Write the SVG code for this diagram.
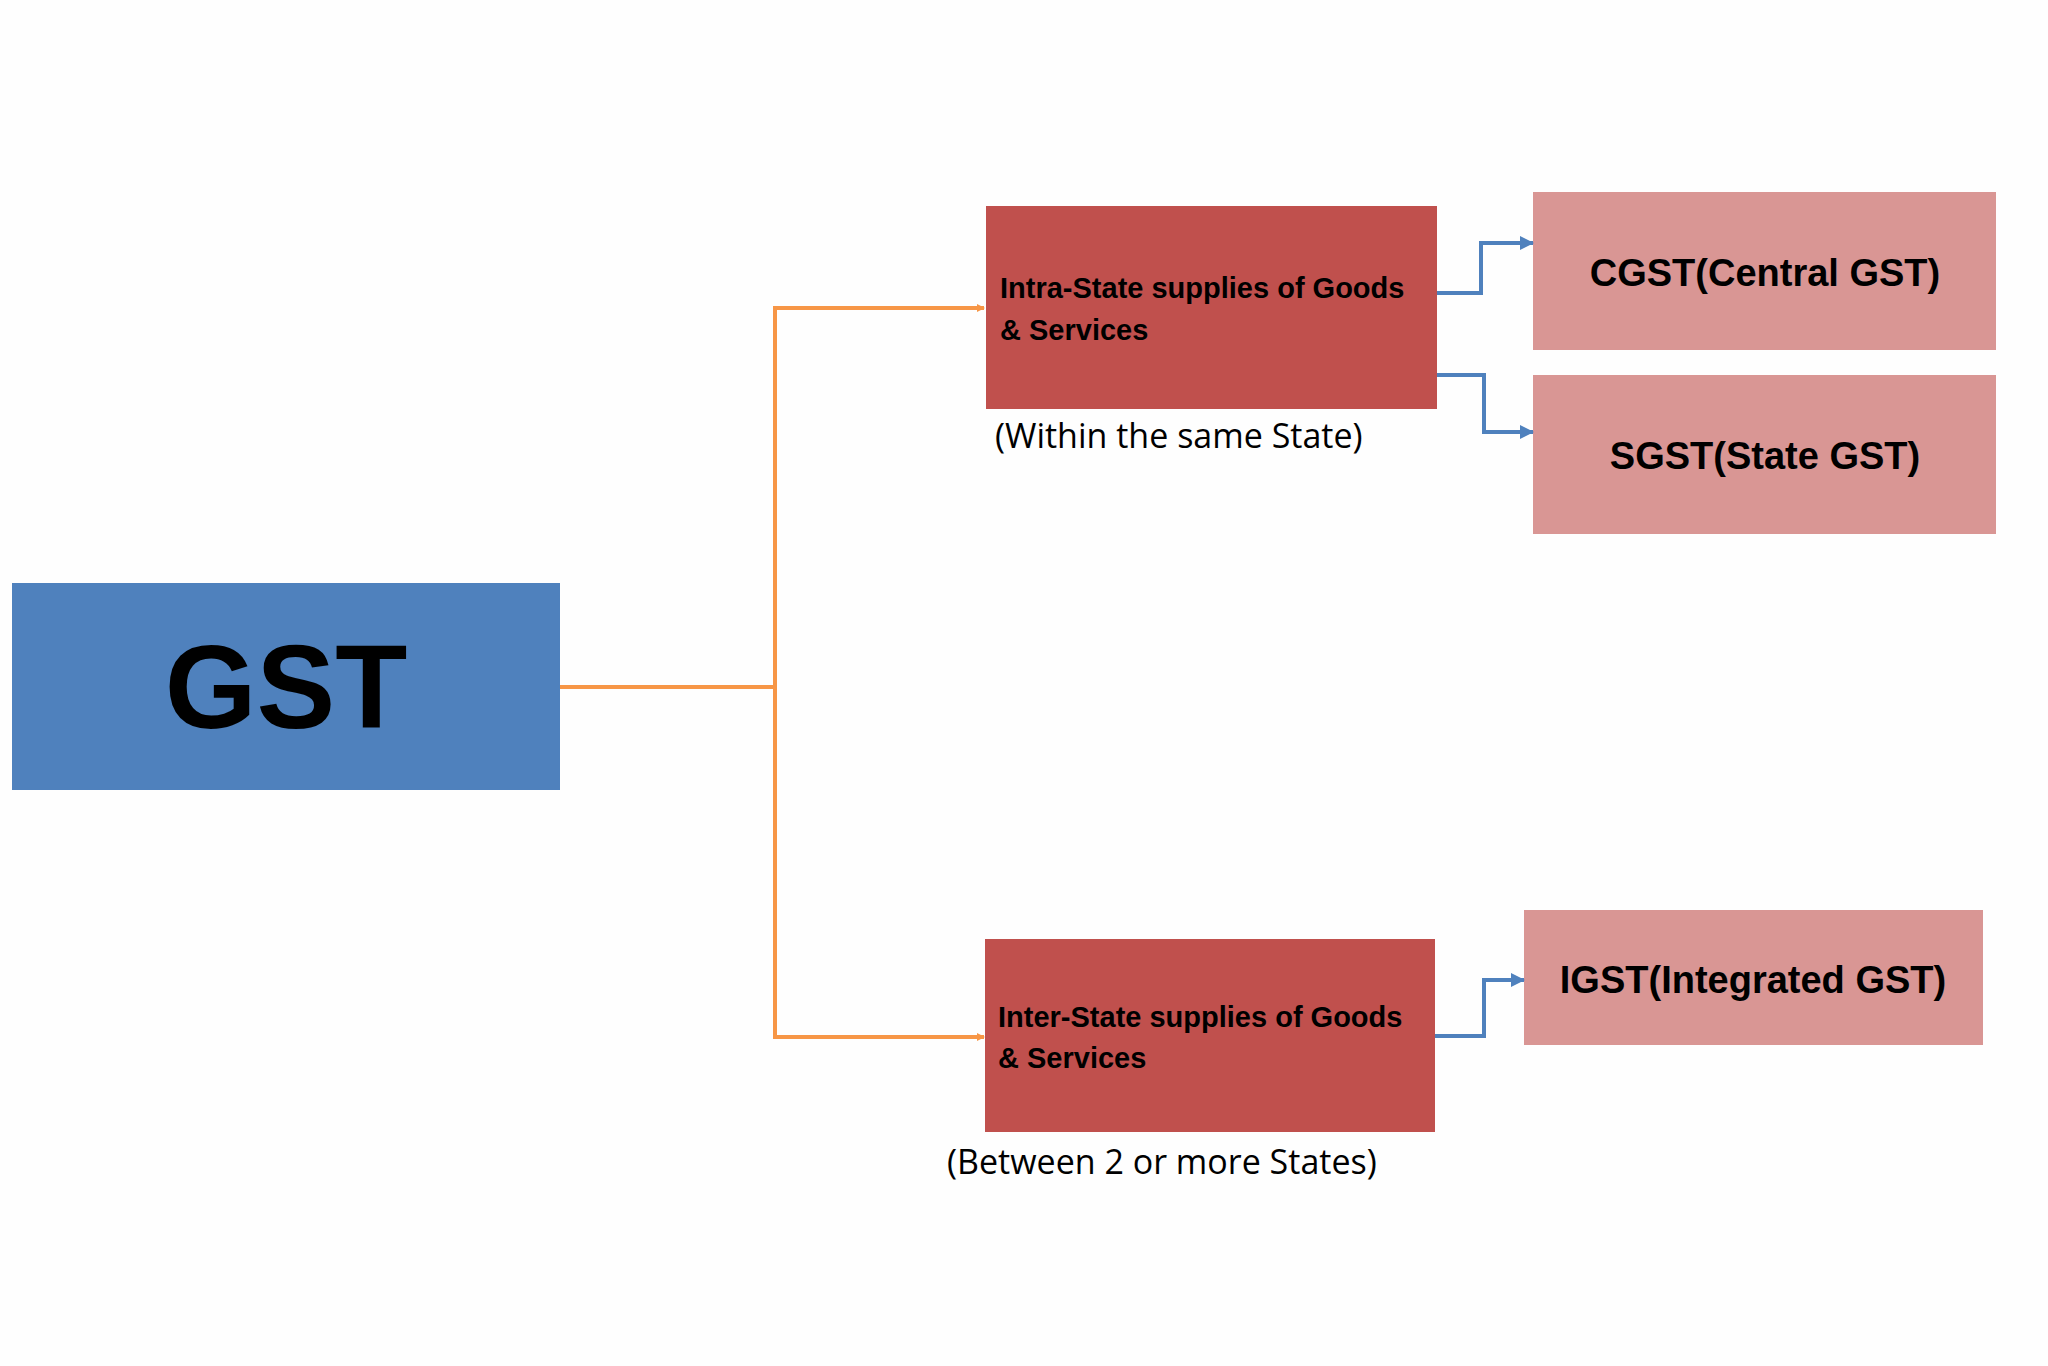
<svg xmlns="http://www.w3.org/2000/svg" width="2048" height="1366" viewBox="0 0 2048 1366">
<defs>
<style>
.b{font-family:"Liberation Sans",Arial,sans-serif;font-weight:bold;fill:#000}
.r{font-family:"Open Sans","Liberation Sans",sans-serif;fill:#000}
.o{fill:none;stroke:#F79646;stroke-width:4}
.bl{fill:none;stroke:#4F81BD;stroke-width:4}
</style>
<marker id="ao" markerWidth="8" markerHeight="8" refX="7" refY="4" orient="auto" markerUnits="userSpaceOnUse" viewBox="0 0 8 8"><path d="M0,0L8,4L0,8z" fill="#F79646"/></marker>
<marker id="ab" markerWidth="14" markerHeight="14" refX="13" refY="7" orient="auto" markerUnits="userSpaceOnUse" viewBox="0 0 14 14"><path d="M0,0L14,7L0,14z" fill="#4F81BD"/></marker>
</defs>
<rect width="2048" height="1366" fill="#fefefe"/>
<g id="gst"><rect x="12" y="583" width="548" height="207" fill="#4F81BD"/><text class="b" x="286" y="728" font-size="118" text-anchor="middle">GST</text></g>
<g id="intra"><rect x="986" y="206" width="451" height="203" fill="#C0504D"/><text class="b" x="1000" y="298" font-size="29">Intra-State supplies of Goods</text><text class="b" x="1000" y="340" font-size="29">&amp; Services</text><text class="r" x="995" y="448" font-size="34">(Within the same State)</text></g>
<g id="inter"><rect x="985" y="939" width="450" height="193" fill="#C0504D"/><text class="b" x="998" y="1027" font-size="29">Inter-State supplies of Goods</text><text class="b" x="998" y="1068" font-size="29">&amp; Services</text><text class="r" x="947" y="1174" font-size="34">(Between 2 or more States)</text></g>
<g id="cgst"><rect x="1533" y="192" width="463" height="158" fill="#D99694"/><text class="b" x="1765" y="286" font-size="38" text-anchor="middle">CGST(Central GST)</text></g>
<g id="sgst"><rect x="1533" y="375" width="463" height="159" fill="#D99694"/><text class="b" x="1765" y="469" font-size="38" text-anchor="middle">SGST(State GST)</text></g>
<g id="igst"><rect x="1524" y="910" width="459" height="135" fill="#D99694"/><text class="b" x="1753" y="993" font-size="38" text-anchor="middle">IGST(Integrated GST)</text></g>
<g id="connectors">
<path class="o" d="M560,687H775"/>
<path class="o" d="M775,687V308H984" marker-end="url(#ao)"/>
<path class="o" d="M775,687V1037H984" marker-end="url(#ao)"/>
<path class="bl" d="M1437,293H1481V243H1533" marker-end="url(#ab)"/>
<path class="bl" d="M1437,375H1484V432H1533" marker-end="url(#ab)"/>
<path class="bl" d="M1435,1036H1484V980H1524" marker-end="url(#ab)"/>
</g>
</svg>
